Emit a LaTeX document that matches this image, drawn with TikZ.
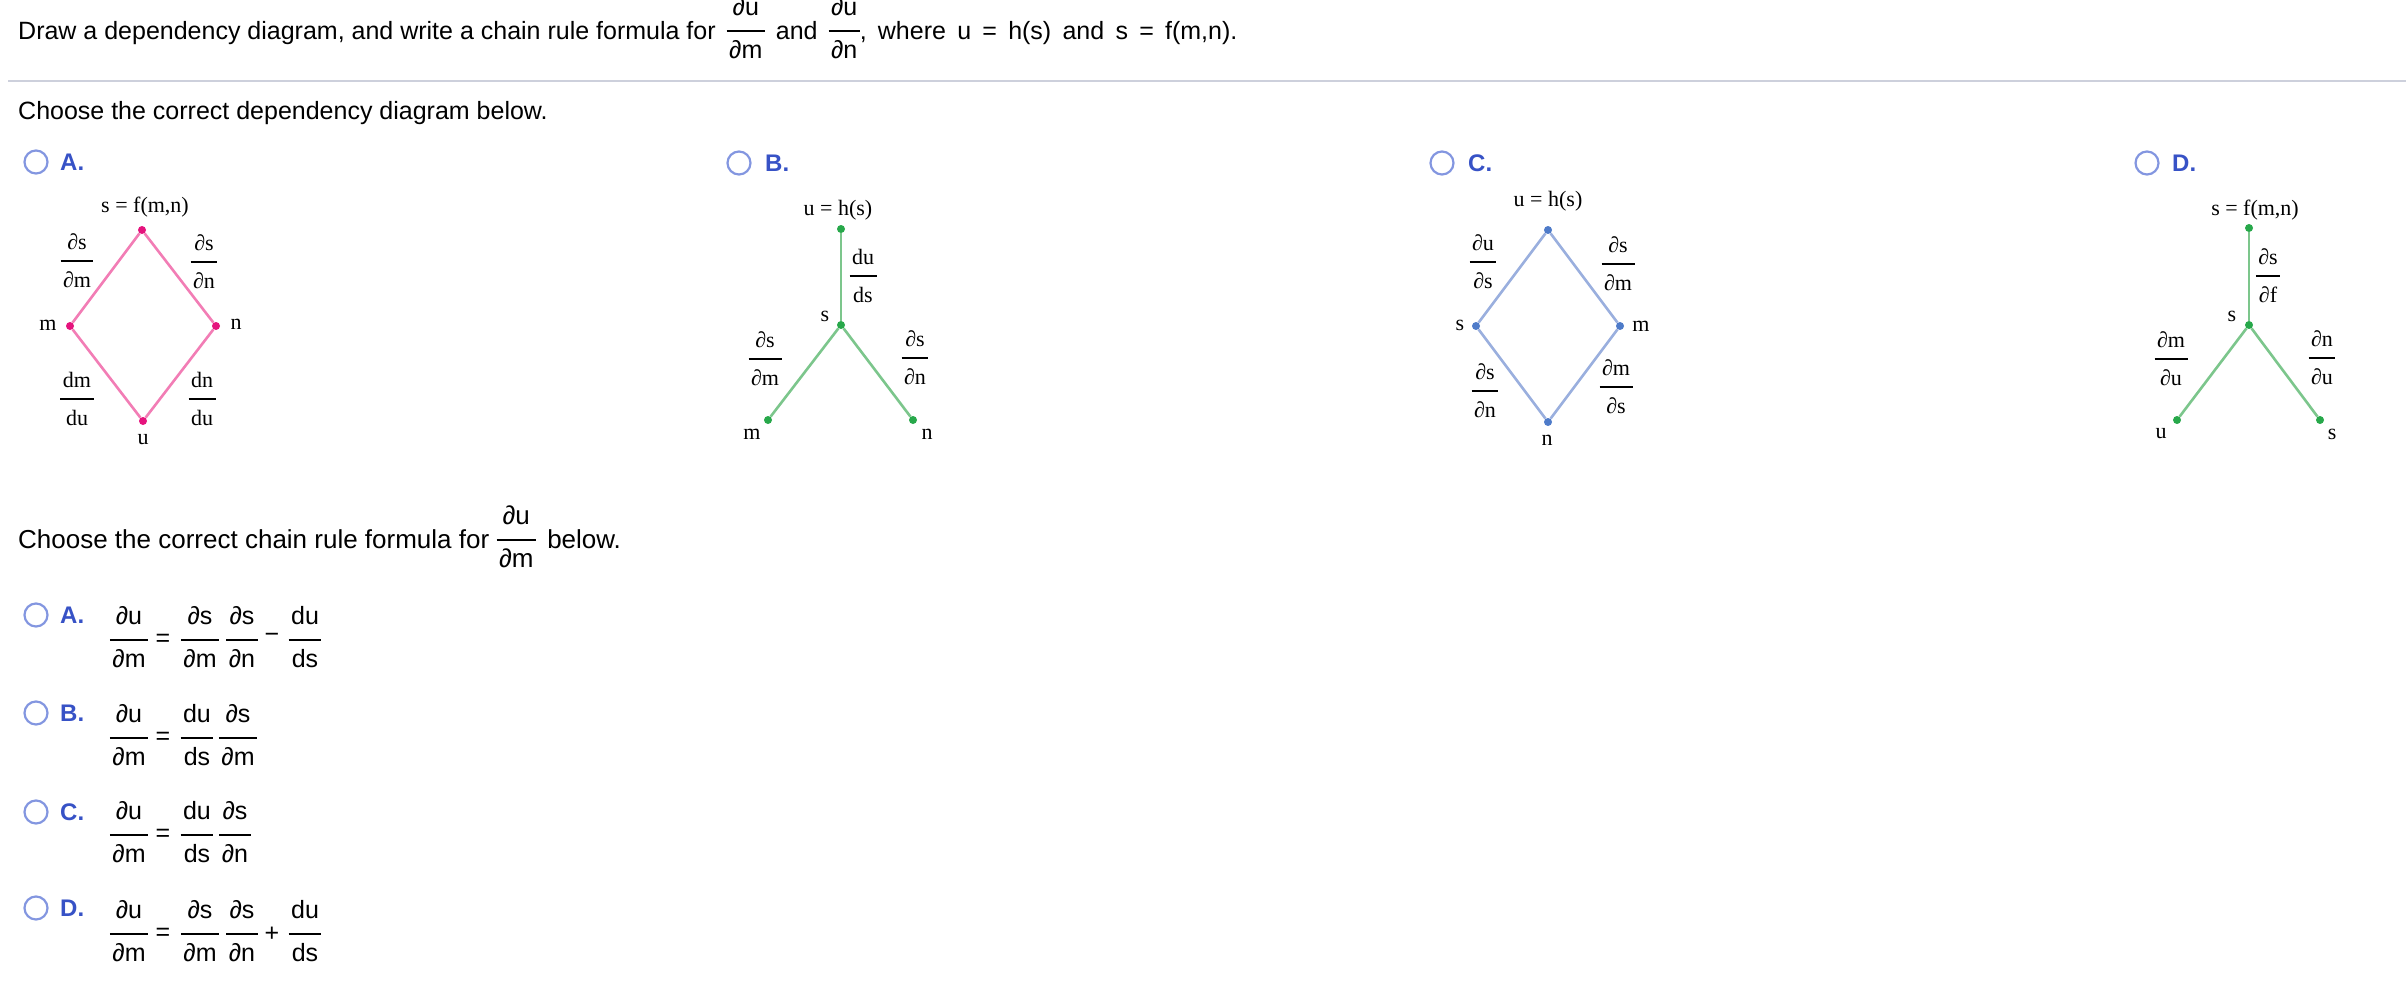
\documentclass[tikz,border=0pt]{standalone}
\usepackage{fontspec}
\setmainfont{Liberation Serif}
\newfontfamily\arialf{Liberation Sans}
\definecolor{pinkline}{HTML}{F27DB5}
\definecolor{pinkdot}{HTML}{E5137D}
\definecolor{greenline}{HTML}{7CC68C}
\definecolor{greendot}{HTML}{27A84A}
\definecolor{blueline}{HTML}{9AAFDE}
\definecolor{bluedot}{HTML}{4E7BC9}
\definecolor{radioc}{HTML}{8396E0}
\definecolor{letterc}{HTML}{3752C6}
\definecolor{rulec}{HTML}{CDD0DC}
\newcommand\Fr[4]{{\renewcommand\arraystretch{0}\setlength\arrayrulewidth{2pt}\begin{tabular}[b]{@{\hspace{2.5pt}}c@{\hspace{2.5pt}}}\rule[-#3]{0pt}{#3}#1\\\hline\rule{0pt}{#4}#2\end{tabular}}}
\newcommand\Dfr[2]{\Fr{#1}{#2}{11pt}{25pt}}
\newcommand\Sfr[2]{\Fr{#1}{#2}{15pt}{26pt}}
\newcommand\Ifr[2]{\hspace{4pt}\raisebox{-19pt}{\Sfr{#1}{#2}}\hspace{4pt}}
\newcommand\Jfr[2]{\raisebox{-19pt}{\Sfr{#1}{#2}}\hspace{4pt}}
\newcommand\eqs{\hspace{0.25em}=\hspace{0.25em}}
\tikzset{
  hdr/.style={font=\arialf\fontsize{25pt}{30pt}\selectfont, inner sep=0pt, text=black},
  hdrb/.style={font=\arialf\fontsize{26pt}{31pt}\selectfont, inner sep=0pt, text=black},
  radio/.style={circle, draw=radioc, line width=2.2pt, minimum size=23pt, inner sep=0pt},
  letter/.style={font=\arialf\bfseries\fontsize{24pt}{28pt}\selectfont, text=letterc, inner sep=0pt, anchor=west},
  dlab/.style={font=\fontsize{22pt}{26pt}\selectfont, inner sep=0pt, text=black},
  dfr/.style={dlab, anchor=base, yshift=-26pt},
  sfr/.style={hdr, anchor=base, yshift=-27pt},
  dotP/.style={circle, fill=pinkdot, minimum size=8pt, inner sep=0pt},
  dotG/.style={circle, fill=greendot, minimum size=8pt, inner sep=0pt},
  dotB/.style={circle, fill=bluedot, minimum size=8pt, inner sep=0pt},
  edgeP/.style={draw=pinkline, line width=2.6pt},
  edgeG/.style={draw=greenline, line width=2.6pt},
  edgeB/.style={draw=blueline, line width=2.6pt},
}
\begin{document}
\begin{tikzpicture}[x=1pt, y=-1pt]
\useasboundingbox (0,0) rectangle (2406,1004);
% header
\node[hdr, anchor=base west] (title) at (18,39) {Draw a dependency diagram, and write a chain rule formula for \Ifr{∂u}{∂m} and \Ifr{∂u}{∂n}\hspace{-4pt}{\spaceskip=0.45em, where u = h(s) and s = f(m,n).}};
\draw[rulec, line width=2pt] (8,81) -- (2406,81);
\node[hdr, anchor=base west] (q1) at (18,119) {Choose the correct dependency diagram below.};
% option markers
\node[radio] (rA) at (36,162) {}; \node[letter] (lA) at (60,162) {A.};
\node[radio] (rB) at (739,163) {}; \node[letter] (lB) at (765,163) {B.};
\node[radio] (rC) at (1442,163) {}; \node[letter] (lC) at (1468,163) {C.};
\node[radio] (rD) at (2147,163) {}; \node[letter] (lD) at (2172,163) {D.};
% Diagram A
\node[dlab] (A-t) at (145,207) {s\eqs f(m,n)};
\node[dotP] (A-top) at (142,230) {};
\node[dotP] (A-m) at (70,326) {};
\node[dotP] (A-n) at (216,326) {};
\node[dotP] (A-u) at (143,421) {};
\draw[edgeP] (A-top) -- (A-m) -- (A-u) -- (A-n) -- (A-top);
\node[dlab] (A-ml) at (48,325) {m};
\node[dlab] (A-nl) at (236,324) {n};
\node[dlab] (A-ul) at (143,440) {u};
\node[dfr] (A-f1) at (77,261) {\Dfr{∂s}{∂m}};
\node[dfr] (A-f2) at (204,262) {\Dfr{∂s}{∂n}};
\node[dfr] (A-f3) at (77,399) {\Dfr{dm}{du}};
\node[dfr] (A-f4) at (202,399) {\Dfr{dn}{du}};
% Diagram B
\node[dlab] (B-t) at (838,210) {u\eqs h(s)};
\node[dotG] (B-top) at (841,229) {};
\node[dotG] (B-s) at (841,325) {};
\node[dotG] (B-m) at (768,420) {};
\node[dotG] (B-n) at (913,420) {};
\draw[edgeG] (B-top) -- (B-s);
\draw[edgeG] (B-s) -- (B-m);
\draw[edgeG] (B-s) -- (B-n);
\node[dlab] (B-sl) at (825,316) {s};
\node[dlab] (B-ml) at (752,434) {m};
\node[dlab] (B-nl) at (927,434) {n};
\node[dfr] (B-f1) at (863,276) {\Dfr{du}{ds}};
\node[dfr] (B-f2) at (765,359) {\Dfr{∂s}{∂m}};
\node[dfr] (B-f3) at (915,358) {\Dfr{∂s}{∂n}};
% Diagram C
\node[dlab] (C-t) at (1548,201) {u\eqs h(s)};
\node[dotB] (C-top) at (1548,230) {};
\node[dotB] (C-s) at (1476,326) {};
\node[dotB] (C-m) at (1620,326) {};
\node[dotB] (C-n) at (1548,422) {};
\draw[edgeB] (C-top) -- (C-s) -- (C-n) -- (C-m) -- (C-top);
\node[dlab] (C-sl) at (1460,325) {s};
\node[dlab] (C-ml) at (1641,326) {m};
\node[dlab] (C-nl) at (1547,440) {n};
\node[dfr] (C-f1) at (1483,262) {\Dfr{∂u}{∂s}};
\node[dfr] (C-f2) at (1618,264) {\Dfr{∂s}{∂m}};
\node[dfr] (C-f3) at (1485,391) {\Dfr{∂s}{∂n}};
\node[dfr] (C-f4) at (1616,387) {\Dfr{∂m}{∂s}};
% Diagram D
\node[dlab] (D-t) at (2255,210) {s\eqs f(m,n)};
\node[dotG] (D-top) at (2249,228) {};
\node[dotG] (D-s) at (2249,325) {};
\node[dotG] (D-u) at (2177,420) {};
\node[dotG] (D-s2) at (2320,420) {};
\draw[edgeG] (D-top) -- (D-s);
\draw[edgeG] (D-s) -- (D-u);
\draw[edgeG] (D-s) -- (D-s2);
\node[dlab] (D-sl) at (2232,316) {s};
\node[dlab] (D-ul) at (2161,434) {u};
\node[dlab] (D-s2l) at (2332,434) {s};
\node[dfr] (D-f1) at (2268,276) {\Dfr{∂s}{∂f}};
\node[dfr] (D-f2) at (2171,359) {\Dfr{∂m}{∂u}};
\node[dfr] (D-f3) at (2322,358) {\Dfr{∂n}{∂u}};
% second question
\node[hdrb, anchor=base west] (q2) at (18,548) {Choose the correct chain rule formula for \Jfr{∂u}{∂m} below.};
% answer A
\node[radio] (rA2) at (36,615) {}; \node[letter] (lA2) at (60,615) {A.};
\node[sfr] (FA1) at (129,640) {\Sfr{∂u}{∂m}};
\node[hdr] (FAe) at (163,640) {=};
\node[sfr] (FA2) at (200,640) {\Sfr{∂s}{∂m}};
\node[sfr] (FA3) at (242,640) {\Sfr{∂s}{∂n}};
\node[hdr] (FAo) at (272,638) {−};
\node[sfr] (FA4) at (305,640) {\Sfr{du}{ds}};
% answer B
\node[radio] (rB2) at (36,713) {}; \node[letter] (lB2) at (60,713) {B.};
\node[sfr] (FB1) at (129,738) {\Sfr{∂u}{∂m}};
\node[hdr] (FBe) at (163,738) {=};
\node[sfr] (FB2) at (197,738) {\Sfr{du}{ds}};
\node[sfr] (FB3) at (238,738) {\Sfr{∂s}{∂m}};
% answer C
\node[radio] (rC2) at (36,812) {}; \node[letter] (lC2) at (60,812) {C.};
\node[sfr] (FC1) at (129,835) {\Sfr{∂u}{∂m}};
\node[hdr] (FCe) at (163,835) {=};
\node[sfr] (FC2) at (197,835) {\Sfr{du}{ds}};
\node[sfr] (FC3) at (235,835) {\Sfr{∂s}{∂n}};
% answer D
\node[radio] (rD2) at (36,908) {}; \node[letter] (lD2) at (60,908) {D.};
\node[sfr] (FD1) at (129,934) {\Sfr{∂u}{∂m}};
\node[hdr] (FDe) at (163,934) {=};
\node[sfr] (FD2) at (200,934) {\Sfr{∂s}{∂m}};
\node[sfr] (FD3) at (242,934) {\Sfr{∂s}{∂n}};
\node[hdr] (FDo) at (272,934) {+};
\node[sfr] (FD4) at (305,934) {\Sfr{du}{ds}};
\end{tikzpicture}
\end{document}
